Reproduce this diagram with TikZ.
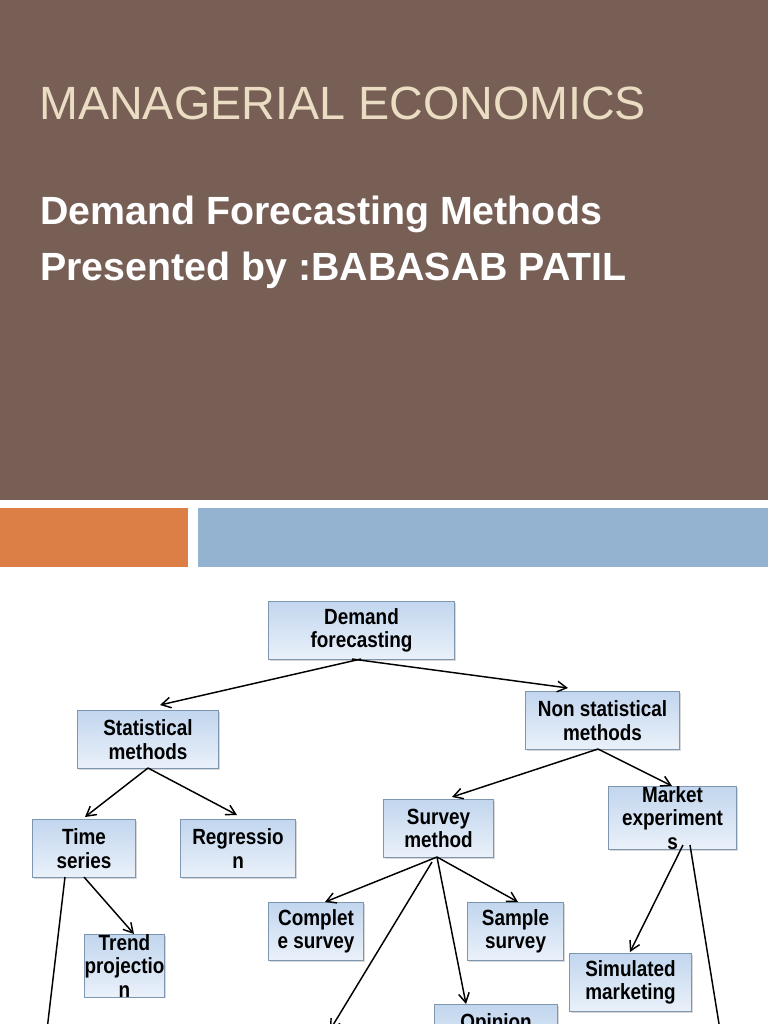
\documentclass[tikz,border=0pt]{standalone}
\usepackage{fontspec}
\setmainfont{Liberation Sans}
\newfontfamily\boxfont[FakeStretch=0.86]{Liberation Sans}
\usetikzlibrary{arrows.meta,shadows}
\definecolor{brownbg}{HTML}{775F55}
\definecolor{titlec}{HTML}{EBDDC3}
\definecolor{orangec}{HTML}{DC7F47}
\definecolor{bluec}{HTML}{93B3D0}
\definecolor{boxtop}{HTML}{C2D6EE}
\definecolor{boxbot}{HTML}{EAF1FA}
\definecolor{boxline}{HTML}{7F96B0}
\tikzset{
  bx/.style={draw=boxline, line width=0.8pt, top color=boxtop, bottom color=boxbot,
    drop shadow={shadow xshift=1pt,shadow yshift=-1pt,opacity=0.3},
    align=center, font=\boxfont\fontsize{16.5}{17.5}\selectfont\bfseries, inner sep=0pt, anchor=north west},
  ar/.style={-{Straight Barb[length=7pt,width=8pt]}, line width=1.1pt},
  ln/.style={line width=1.1pt}
}
\begin{document}
\begin{tikzpicture}[x=0.75pt,y=-0.75pt]
\useasboundingbox (0,0) rectangle (768,1024);
\fill[white] (0,0) rectangle (768,1024);
\fill[brownbg] (0,0) rectangle (768,500);
\fill[orangec] (0,508) rectangle (188,567);
\fill[bluec] (198,508) rectangle (768,567);
\node[anchor=base west, text=titlec, inner sep=0pt, font=\fontsize{35}{40}\selectfont] (title) at (39,119) {MANAGERIAL ECONOMICS};
\node[anchor=base west, text=white, inner sep=0pt, font=\fontsize{29.5}{34}\selectfont\bfseries] (sub1) at (40,224) {Demand Forecasting Methods};
\node[anchor=base west, text=white, inner sep=0pt, font=\fontsize{29.5}{34}\selectfont\bfseries] (sub2) at (40,280) {Presented by :BABASAB PATIL};

\node[bx, minimum width=139.5pt, minimum height=43.5pt] (df) at (268,601) {Demand\\forecasting};
\node[bx, minimum width=105.75pt, minimum height=43.5pt] (st) at (77,710) {Statistical\\methods};
\node[bx, minimum width=115.5pt, minimum height=43.5pt] (ns) at (525,691) {Non statistical\\methods};
\node[bx, minimum width=77.25pt, minimum height=43.5pt] (ts) at (32,819) {Time\\series};
\node[bx, minimum width=86.25pt, minimum height=43.5pt] (rg) at (180,819) {Regressio\\n};
\node[bx, minimum width=82.5pt, minimum height=43.5pt] (sv) at (383,799) {Survey\\method};
\node[bx, minimum width=96pt, minimum height=43.5pt] (me) at (608,786) {Market\\experiment\\s};
\node[bx, minimum width=71.25pt, minimum height=43.5pt] (cs) at (268,902) {Complet\\e survey};
\node[bx, minimum width=72pt, minimum height=43.5pt] (ss) at (467,902) {Sample\\survey};
\node[bx, minimum width=55.5pt, minimum height=43.5pt] (tp) at (84,934) {Trend\\projectio\\n};
\node[bx, minimum width=91.5pt, minimum height=43.5pt] (sm) at (569,953) {Simulated\\marketing};
\node[bx, minimum width=92.25pt, minimum height=43.5pt, anchor=north west] (op) at (434,1004) {Opinion\\\phantom{x}};

\coordinate (dfa) at (361,659);
\coordinate (dfb) at (352,659);
\coordinate (sta) at (148,768);
\coordinate (nsa) at (598,749);
\coordinate (sva) at (437,857);
\coordinate (svb) at (432,862);
\coordinate (mea) at (683,845);
\coordinate (meb) at (690,845);
\coordinate (tsa) at (65,877);
\coordinate (tsb) at (84,877);
\coordinate (e1) at (330,1030);
\coordinate (e2) at (720,1030);
\coordinate (e3) at (47,1030);

\draw[ar] (dfa) -- (160,705);
\draw[ar] (dfb) -- (568,688);
\draw[ar] (sta) -- (85,817);
\draw[ar] (sta) -- (237,815);
\draw[ar] (nsa) -- (452,797);
\draw[ar] (nsa) -- (672,786);
\draw[ar] (sva) -- (325,902);
\draw[ar] (sva) -- (518,902);
\draw[ar] (sva) -- (466,1004);
\draw[ar] (svb) -- (e1);
\draw[ar] (mea) -- (630,952);
\draw[ln] (meb) -- (e2);
\draw[ln] (tsa) -- (e3);
\draw[ar] (tsb) -- (134,934);
\end{tikzpicture}
\end{document}
